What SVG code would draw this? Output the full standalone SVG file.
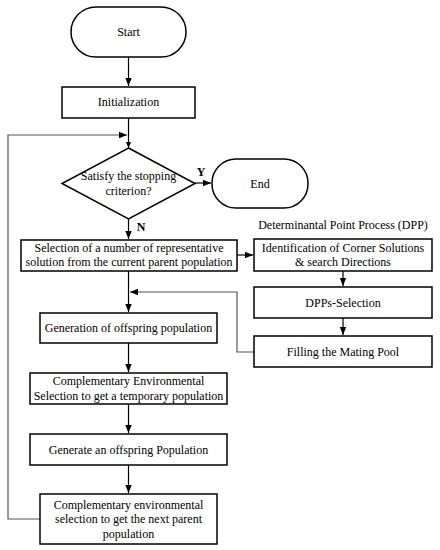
<svg xmlns="http://www.w3.org/2000/svg" width="440" height="550" viewBox="0 0 440 550">
<defs>
<marker id="ah" markerWidth="8" markerHeight="8" refX="8" refY="4" orient="auto" markerUnits="userSpaceOnUse">
<path d="M0,0.8 L8,4 L0,7.2 Z" fill="#000"/>
</marker>
<marker id="ahs" markerWidth="6" markerHeight="6" refX="6" refY="3" orient="auto" markerUnits="userSpaceOnUse">
<path d="M0,0.5 L6,3 L0,5.5 Z" fill="#000"/>
</marker>
</defs>
<style>
.box{fill:#fff;stroke:#000;stroke-width:1.5}
.t{font-family:"Liberation Serif","Times New Roman",serif;font-size:12px;fill:#000;text-anchor:middle}
.b{font-weight:bold;font-size:12px}
.c{fill:none;stroke:#000;stroke-width:1.2}
.g{fill:none;stroke:#555;stroke-width:1.2}
</style>
<rect width="440" height="550" fill="#fff"/>
<g id="connectors">
<line class="c" x1="128.5" y1="57" x2="128.5" y2="86" marker-end="url(#ah)"/>
<line class="c" x1="128.5" y1="118" x2="128.5" y2="148" marker-end="url(#ahs)"/>
<polyline class="g" points="40,519 8,519 8,135 127,135" marker-end="url(#ah)"/>
<line class="c" x1="195" y1="183" x2="211" y2="183" marker-end="url(#ah)"/>
<line class="c" x1="128.5" y1="219" x2="128.5" y2="239" marker-end="url(#ah)"/>
<line class="c" x1="237" y1="255" x2="253" y2="255" marker-end="url(#ah)"/>
<line class="c" x1="343" y1="271" x2="343" y2="286" marker-end="url(#ah)"/>
<line class="c" x1="343" y1="318" x2="343" y2="335" marker-end="url(#ah)"/>
<polyline class="g" points="254,352 237,352 237,292 130,292" marker-end="url(#ah)"/>
<line class="c" x1="128.5" y1="271" x2="128.5" y2="312" marker-end="url(#ah)"/>
<line class="c" x1="128.5" y1="343" x2="128.5" y2="372" marker-end="url(#ah)"/>
<line class="c" x1="128.5" y1="404" x2="128.5" y2="433" marker-end="url(#ah)"/>
<line class="c" x1="128.5" y1="465" x2="128.5" y2="493" marker-end="url(#ah)"/>
<text class="t b" x="201" y="176">Y</text>
<text class="t b" x="141" y="231">N</text>
</g>
<g id="start">
<rect class="box" x="71" y="7" width="115" height="50" rx="25"/>
<text class="t" x="128.5" y="36">Start</text>
</g>
<g id="init">
<rect class="box" x="62" y="87" width="133" height="31"/>
<text class="t" x="128.5" y="106">Initialization</text>
</g>
<g id="decision">
<polygon class="box" points="128.5,148 195,183.5 128.5,219 62,183.5"/>
<text class="t" x="128.5" y="180">Satisfy the stopping</text>
<text class="t" x="128.5" y="195">criterion?</text>
</g>
<g id="end">
<rect class="box" x="212" y="159" width="96" height="49" rx="24"/>
<text class="t" x="260" y="188">End</text>
</g>
<g id="selection">
<rect class="box" x="21" y="240" width="216" height="31"/>
<text class="t" x="129" y="252">Selection of a number of representative</text>
<text class="t" x="129" y="266">solution from the current parent population</text>
</g>
<text class="t" x="343" y="229">Determinantal Point Process (DPP)</text>
<g id="identification">
<rect class="box" x="254" y="239" width="178" height="32"/>
<text class="t" x="343" y="252">Identification of Corner Solutions</text>
<text class="t" x="343" y="266">&amp; search Directions</text>
</g>
<g id="dpps">
<rect class="box" x="254" y="287" width="178" height="31"/>
<text class="t" x="343" y="307">DPPs-Selection</text>
</g>
<g id="filling">
<rect class="box" x="254" y="336" width="178" height="31"/>
<text class="t" x="343" y="356">Filling the Mating Pool</text>
</g>
<g id="generation">
<rect class="box" x="40" y="313" width="177" height="30"/>
<text class="t" x="128.5" y="332">Generation of offspring population</text>
</g>
<g id="comp1">
<rect class="box" x="30" y="373" width="197" height="31"/>
<text class="t" x="128.5" y="385">Complementary Environmental</text>
<text class="t" x="128.5" y="400">Selection to get a temporary population</text>
</g>
<g id="generate">
<rect class="box" x="30" y="434" width="197" height="31"/>
<text class="t" x="128.5" y="454">Generate an offspring Population</text>
</g>
<g id="comp2">
<rect class="box" x="40" y="494" width="177" height="50"/>
<text class="t" x="128.5" y="509">Complementary environmental</text>
<text class="t" x="128.5" y="523">selection to get the next parent</text>
<text class="t" x="128.5" y="538">population</text>
</g>
</svg>
